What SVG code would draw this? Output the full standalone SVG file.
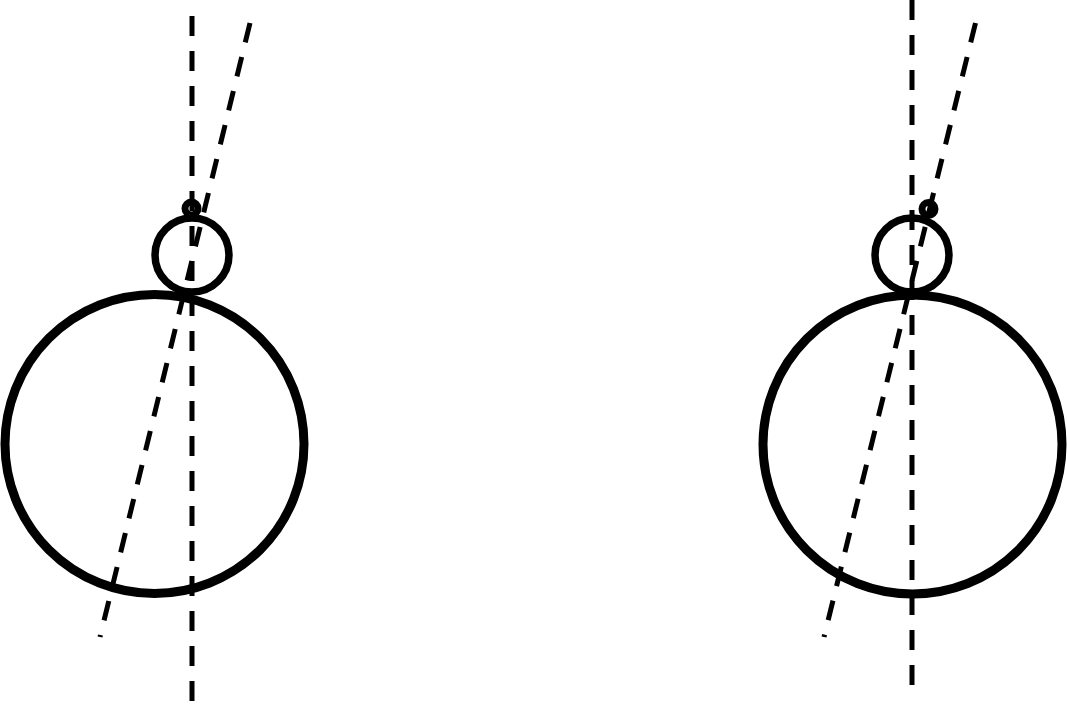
<svg xmlns="http://www.w3.org/2000/svg" width="1067" height="714" viewBox="0 0 1067 714">
  <style>
    .big { fill: none; stroke: #000; stroke-width: 9; }
    .small { fill: none; stroke: #000; stroke-width: 7.5; }
    .tiny { fill: none; stroke: #000; stroke-width: 7; }
    .dash { fill: none; stroke: #000; stroke-width: 5; stroke-dasharray: 20 15; }
  </style>
  <rect x="0" y="0" width="1067" height="714" fill="#fff"/>
  <g id="left-big"><circle class="big" cx="154.5" cy="444" r="149.5"/></g>
  <g id="left-small"><circle class="small" cx="192" cy="255" r="37"/></g>
  <g id="left-tiny"><circle class="tiny" cx="191.5" cy="208.5" r="6.5"/></g>
  <g id="right-big"><circle class="big" cx="912.5" cy="444.5" r="149.5"/></g>
  <g id="right-small"><circle class="small" cx="912" cy="255" r="37"/></g>
  <g id="right-tiny"><circle class="tiny" cx="928.5" cy="209" r="6.5"/></g>
  <g id="connectors">
    <line class="dash" x1="192" y1="16" x2="192" y2="701"/>
    <line class="dash" x1="250" y1="23" x2="100" y2="637"/>
    <line class="dash" x1="912" y1="0" x2="912" y2="686"/>
    <line class="dash" x1="975.5" y1="23" x2="824" y2="637"/>
  </g>
</svg>
